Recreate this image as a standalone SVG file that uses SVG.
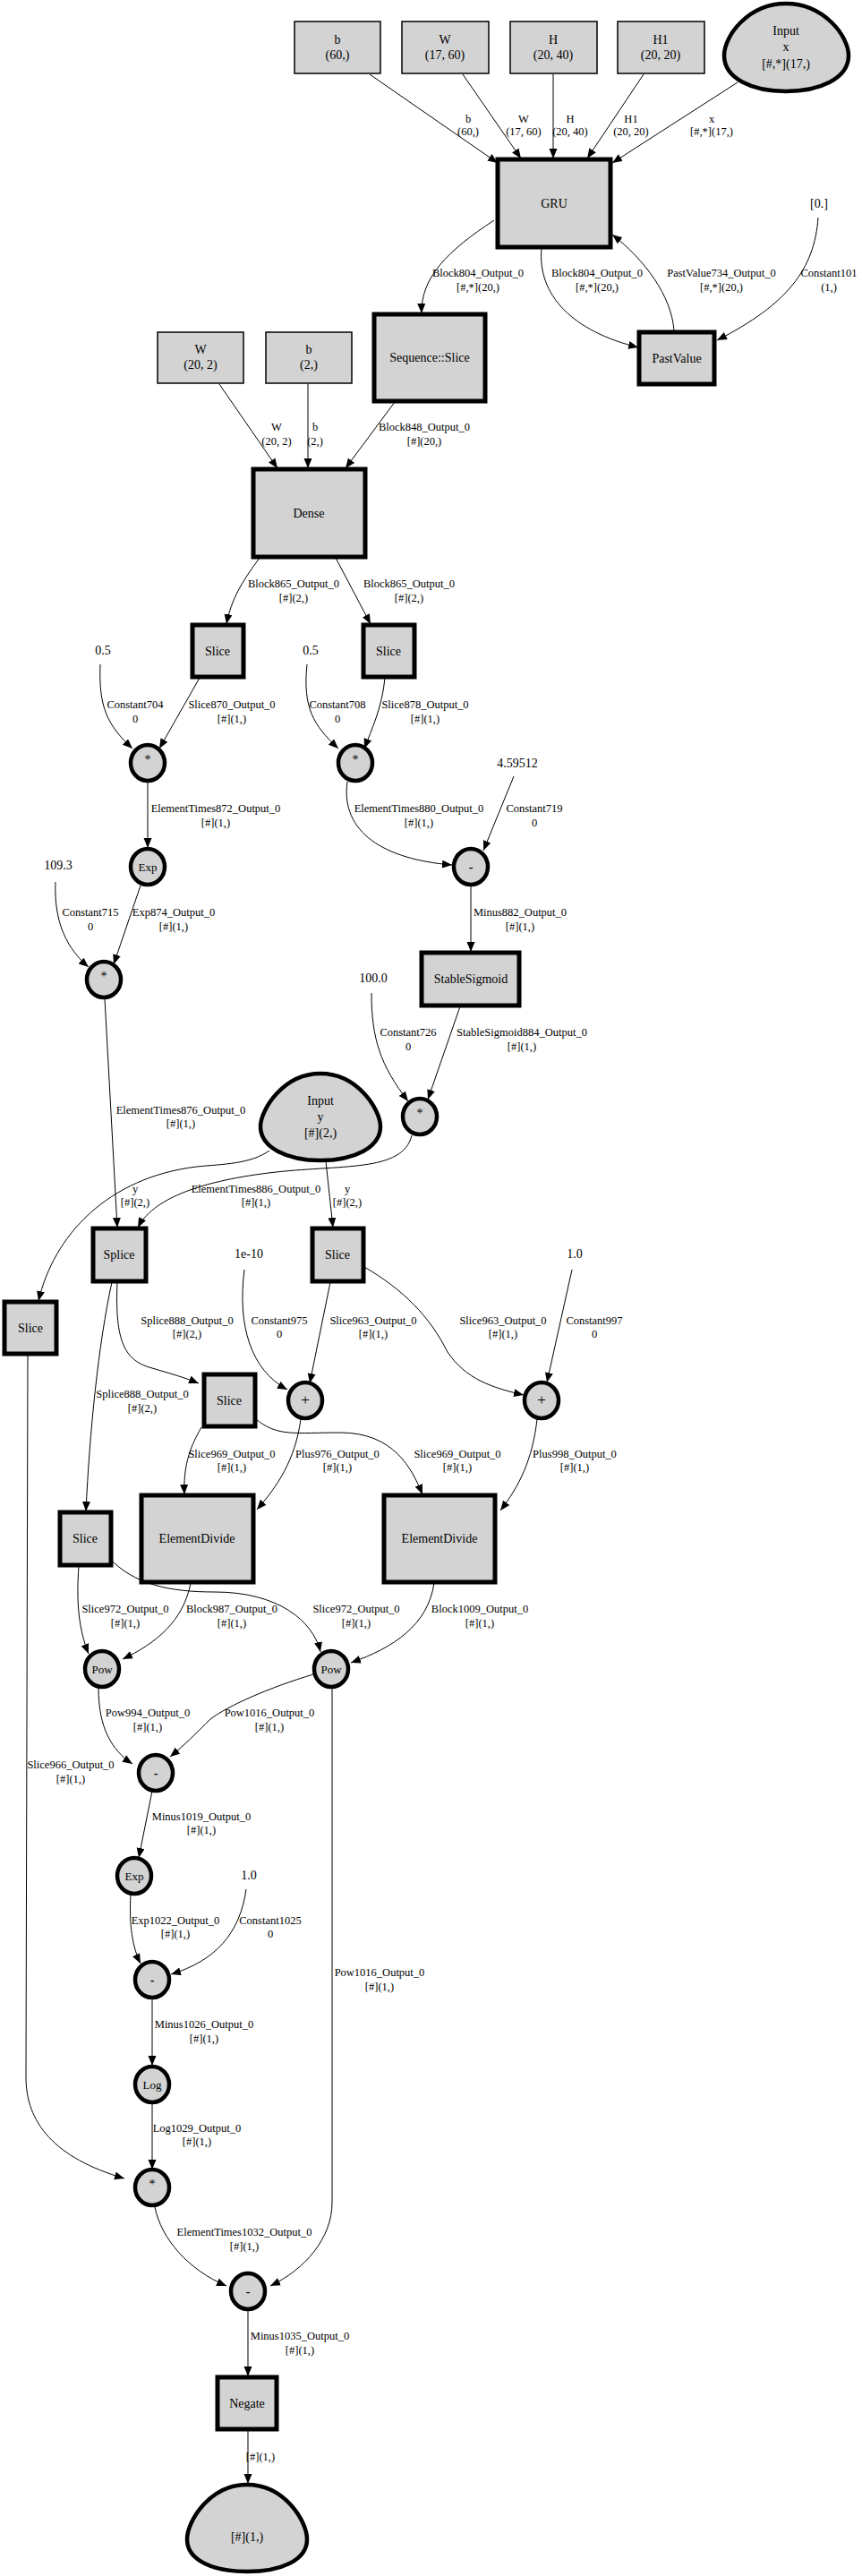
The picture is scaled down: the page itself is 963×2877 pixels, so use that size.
<svg xmlns="http://www.w3.org/2000/svg" width="963" height="2877" viewBox="0 0 963 2877">
<style>
text{font-family:"Liberation Serif",serif;fill:#000}
.n{font-size:14px;text-anchor:middle}
.l{font-size:12.5px;text-anchor:middle}
.p{fill:#d3d3d3;stroke:#000;stroke-width:1.5}
.o{fill:#d3d3d3;stroke:#000;stroke-width:5}
.c{fill:#d3d3d3;stroke:#000;stroke-width:4.5}
.e{fill:none;stroke:#000;stroke-width:1;marker-end:url(#a)}
</style>
<defs><marker id="a" markerUnits="userSpaceOnUse" markerWidth="12" markerHeight="10" refX="11" refY="4.5" orient="auto"><path d="M0,0 L11,4.5 L0,9 Z" fill="#000"/></marker></defs>
<rect width="963" height="2877" fill="#fff"/>
<g id="connectors">
<path class="e" d="M413,83 L556,182"/>
<path class="e" d="M517,83 L582,177"/>
<path class="e" d="M618,83 L618,177"/>
<path class="e" d="M719,83 L656,177"/>
<path class="e" d="M824,92 L684,182"/>
<path class="e" d="M552,246 C500,280 470,310 471,350"/>
<path class="e" d="M605,277 C600,330 640,370 713,388"/>
<path class="e" d="M753,369 C750,330 720,290 684,262"/>
<path class="e" d="M914,243 C910,300 880,340 801,380"/>
<path class="e" d="M245,429 L310,523"/>
<path class="e" d="M344,429 L344,523"/>
<path class="e" d="M441,449 L386,523"/>
<path class="e" d="M290,623 C270,650 258,670 253,697"/>
<path class="e" d="M375,623 L414,697"/>
<path class="e" d="M112,742 C110,790 120,810 148,836"/>
<path class="e" d="M223,757 L178,836"/>
<path class="e" d="M343,742 C338,790 350,810 378,836"/>
<path class="e" d="M430,757 C427,790 415,815 407,836"/>
<path class="e" d="M165,873 L165,947"/>
<path class="e" d="M388,873 C380,930 430,960 505,966"/>
<path class="e" d="M574,867 L540,950"/>
<path class="e" d="M62,985 C60,1030 75,1060 99,1080"/>
<path class="e" d="M157,989 L127,1077"/>
<path class="e" d="M526,989 L526,1063"/>
<path class="e" d="M415,1109 C415,1160 425,1190 456,1230"/>
<path class="e" d="M514,1124 L478,1228"/>
<path class="e" d="M117,1115 L131,1371"/>
<path class="e" d="M460,1268 C450,1310 380,1300 300,1310 C220,1320 170,1340 154,1371"/>
<path class="e" d="M364,1297 L372,1371"/>
<path class="e" d="M301,1285 C280,1300 250,1300 220,1303 C120,1315 60,1380 43,1453"/>
<path class="e" d="M131,1432 C128,1500 140,1520 170,1528 C190,1534 205,1538 222,1545"/>
<path class="e" d="M125,1432 C110,1500 100,1600 96,1688"/>
<path class="e" d="M273,1418 C265,1480 280,1530 321,1552"/>
<path class="e" d="M369,1432 L346,1545"/>
<path class="e" d="M407,1415 C450,1440 480,1470 500,1510 C520,1540 550,1550 585,1558"/>
<path class="e" d="M639,1418 L611,1544"/>
<path class="e" d="M225,1594 C210,1620 205,1640 206,1669"/>
<path class="e" d="M336,1585 C330,1630 310,1660 287,1686"/>
<path class="e" d="M286,1585 C310,1605 330,1600 380,1600 C440,1600 460,1640 472,1669"/>
<path class="e" d="M600,1585 C595,1630 580,1660 559,1687"/>
<path class="e" d="M88,1749 C85,1790 88,1820 99,1847"/>
<path class="e" d="M213,1768 C205,1810 175,1835 137,1853"/>
<path class="e" d="M122,1740 C150,1770 190,1778 240,1778 C310,1778 350,1810 358,1845"/>
<path class="e" d="M485,1768 C478,1815 440,1840 392,1857"/>
<path class="e" d="M110,1885 C110,1930 125,1955 148,1970"/>
<path class="e" d="M350,1870 C300,1885 255,1905 235,1920 C220,1935 205,1950 190,1962"/>
<path class="e" d="M170,2000 L155,2075"/>
<path class="e" d="M146,2116 C144,2150 148,2175 157,2193"/>
<path class="e" d="M275,2110 C268,2160 240,2190 191,2205"/>
<path class="e" d="M170,2232 L170,2307"/>
<path class="e" d="M170,2348 L170,2423"/>
<path class="e" d="M31,1513 L29,2320 C29,2370 60,2410 139,2433"/>
<path class="e" d="M173,2465 C180,2500 210,2535 253,2553"/>
<path class="e" d="M371,1885 L371,2460 C371,2500 340,2535 302,2553"/>
<path class="e" d="M277,2580 L277,2654"/>
<path class="e" d="M277,2714 L277,2774"/>
</g>
<g id="edge-labels">
<text class="l" x="523" y="137">b</text><text class="l" x="523" y="151">(60,)</text>
<text class="l" x="585" y="137">W</text><text class="l" x="585" y="151">(17, 60)</text>
<text class="l" x="637" y="137">H</text><text class="l" x="637" y="151">(20, 40)</text>
<text class="l" x="705" y="137">H1</text><text class="l" x="705" y="151">(20, 20)</text>
<text class="l" x="795" y="137">x</text><text class="l" x="795" y="151">[#,*](17,)</text>
<text class="l" x="534" y="309">Block804_Output_0</text><text class="l" x="534" y="325">[#,*](20,)</text>
<text class="l" x="667" y="309">Block804_Output_0</text><text class="l" x="667" y="325">[#,*](20,)</text>
<text class="l" x="806" y="309">PastValue734_Output_0</text><text class="l" x="806" y="325">[#,*](20,)</text>
<text class="l" x="926" y="309">Constant101</text><text class="l" x="926" y="325">(1,)</text>
<text class="l" x="309" y="481">W</text><text class="l" x="309" y="497">(20, 2)</text>
<text class="l" x="352" y="481">b</text><text class="l" x="352" y="497">(2,)</text>
<text class="l" x="474" y="481">Block848_Output_0</text><text class="l" x="474" y="497">[#](20,)</text>
<text class="l" x="328" y="656">Block865_Output_0</text><text class="l" x="328" y="672">[#](2,)</text>
<text class="l" x="457" y="656">Block865_Output_0</text><text class="l" x="457" y="672">[#](2,)</text>
<text class="l" x="151" y="791">Constant704</text><text class="l" x="151" y="807">0</text>
<text class="l" x="259" y="791">Slice870_Output_0</text><text class="l" x="259" y="807">[#](1,)</text>
<text class="l" x="377" y="791">Constant708</text><text class="l" x="377" y="807">0</text>
<text class="l" x="475" y="791">Slice878_Output_0</text><text class="l" x="475" y="807">[#](1,)</text>
<text class="l" x="241" y="907">ElementTimes872_Output_0</text><text class="l" x="241" y="923">[#](1,)</text>
<text class="l" x="468" y="907">ElementTimes880_Output_0</text><text class="l" x="468" y="923">[#](1,)</text>
<text class="l" x="597" y="907">Constant719</text><text class="l" x="597" y="923">0</text>
<text class="l" x="101" y="1023">Constant715</text><text class="l" x="101" y="1039">0</text>
<text class="l" x="194" y="1023">Exp874_Output_0</text><text class="l" x="194" y="1039">[#](1,)</text>
<text class="l" x="581" y="1023">Minus882_Output_0</text><text class="l" x="581" y="1039">[#](1,)</text>
<text class="l" x="456" y="1157">Constant726</text><text class="l" x="456" y="1173">0</text>
<text class="l" x="583" y="1157">StableSigmoid884_Output_0</text><text class="l" x="583" y="1173">[#](1,)</text>
<text class="l" x="202" y="1244">ElementTimes876_Output_0</text><text class="l" x="202" y="1259">[#](1,)</text>
<text class="l" x="151" y="1332">y</text><text class="l" x="151" y="1347">[#](2,)</text>
<text class="l" x="286" y="1332">ElementTimes886_Output_0</text><text class="l" x="286" y="1347">[#](1,)</text>
<text class="l" x="388" y="1332">y</text><text class="l" x="388" y="1347">[#](2,)</text>
<text class="l" x="209" y="1479">Splice888_Output_0</text><text class="l" x="209" y="1494">[#](2,)</text>
<text class="l" x="312" y="1479">Constant975</text><text class="l" x="312" y="1494">0</text>
<text class="l" x="417" y="1479">Slice963_Output_0</text><text class="l" x="417" y="1494">[#](1,)</text>
<text class="l" x="562" y="1479">Slice963_Output_0</text><text class="l" x="562" y="1494">[#](1,)</text>
<text class="l" x="664" y="1479">Constant997</text><text class="l" x="664" y="1494">0</text>
<text class="l" x="159" y="1561">Splice888_Output_0</text><text class="l" x="159" y="1577">[#](2,)</text>
<text class="l" x="259" y="1628">Slice969_Output_0</text><text class="l" x="259" y="1643">[#](1,)</text>
<text class="l" x="377" y="1628">Plus976_Output_0</text><text class="l" x="377" y="1643">[#](1,)</text>
<text class="l" x="511" y="1628">Slice969_Output_0</text><text class="l" x="511" y="1643">[#](1,)</text>
<text class="l" x="642" y="1628">Plus998_Output_0</text><text class="l" x="642" y="1643">[#](1,)</text>
<text class="l" x="140" y="1801">Slice972_Output_0</text><text class="l" x="140" y="1817">[#](1,)</text>
<text class="l" x="259" y="1801">Block987_Output_0</text><text class="l" x="259" y="1817">[#](1,)</text>
<text class="l" x="398" y="1801">Slice972_Output_0</text><text class="l" x="398" y="1817">[#](1,)</text>
<text class="l" x="536" y="1801">Block1009_Output_0</text><text class="l" x="536" y="1817">[#](1,)</text>
<text class="l" x="165" y="1917">Pow994_Output_0</text><text class="l" x="165" y="1933">[#](1,)</text>
<text class="l" x="301" y="1917">Pow1016_Output_0</text><text class="l" x="301" y="1933">[#](1,)</text>
<text class="l" x="79" y="1975">Slice966_Output_0</text><text class="l" x="79" y="1991">[#](1,)</text>
<text class="l" x="225" y="2033">Minus1019_Output_0</text><text class="l" x="225" y="2048">[#](1,)</text>
<text class="l" x="196" y="2149">Exp1022_Output_0</text><text class="l" x="196" y="2164">[#](1,)</text>
<text class="l" x="302" y="2149">Constant1025</text><text class="l" x="302" y="2164">0</text>
<text class="l" x="424" y="2207">Pow1016_Output_0</text><text class="l" x="424" y="2223">[#](1,)</text>
<text class="l" x="228" y="2265">Minus1026_Output_0</text><text class="l" x="228" y="2281">[#](1,)</text>
<text class="l" x="220" y="2381">Log1029_Output_0</text><text class="l" x="220" y="2396">[#](1,)</text>
<text class="l" x="273" y="2497">ElementTimes1032_Output_0</text><text class="l" x="273" y="2513">[#](1,)</text>
<text class="l" x="335" y="2613">Minus1035_Output_0</text><text class="l" x="335" y="2629">[#](1,)</text>
<text class="l" x="291" y="2748">[#](1,)</text>
</g>
<g id="n_b60"><rect class="p" x="329" y="24" width="96" height="58"/><text class="n" x="377" y="49">b</text><text class="n" x="377" y="66">(60,)</text></g>
<g id="n_W1760"><rect class="p" x="449" y="24" width="97" height="58"/><text class="n" x="497" y="49">W</text><text class="n" x="497" y="66">(17, 60)</text></g>
<g id="n_H"><rect class="p" x="570" y="24" width="97" height="58"/><text class="n" x="618" y="49">H</text><text class="n" x="618" y="66">(20, 40)</text></g>
<g id="n_H1"><rect class="p" x="690" y="24" width="97" height="58"/><text class="n" x="738" y="49">H1</text><text class="n" x="738" y="66">(20, 20)</text></g>
<g id="n_inx"><path class="c" d="M878,4 C920,4 948,40 948,62 C948,88 915,102 878,102 C841,102 809,88 809,62 C809,40 836,4 878,4 Z"/><text class="n" x="878" y="39">Input</text><text class="n" x="878" y="57">x</text><text class="n" x="878" y="76">[#,*](17,)</text></g>
<g id="n_gru"><rect class="o" x="556" y="178" width="126" height="98"/><text class="n" x="619" y="232">GRU</text></g>
<g id="n_c0"><text class="n" x="915" y="232">[0.]</text></g>
<g id="n_seq"><rect class="o" x="418" y="351" width="124" height="97"/><text class="n" x="480" y="404">Sequence::Slice</text></g>
<g id="n_pv"><rect class="o" x="714" y="371" width="84" height="58"/><text class="n" x="756" y="405">PastValue</text></g>
<g id="n_W202"><rect class="p" x="176" y="371" width="96" height="57"/><text class="n" x="224" y="395">W</text><text class="n" x="224" y="412">(20, 2)</text></g>
<g id="n_b2"><rect class="p" x="297" y="371" width="96" height="57"/><text class="n" x="345" y="395">b</text><text class="n" x="345" y="412">(2,)</text></g>
<g id="n_dense"><rect class="o" x="283" y="524" width="125" height="98"/><text class="n" x="345" y="578">Dense</text></g>
<g id="n_slice1"><rect class="o" x="215" y="698" width="57" height="58"/><text class="n" x="243" y="732">Slice</text></g>
<g id="n_slice2"><rect class="o" x="406" y="698" width="57" height="58"/><text class="n" x="434" y="732">Slice</text></g>
<g id="n_c05a"><text class="n" x="115" y="731">0.5</text></g>
<g id="n_c05b"><text class="n" x="347" y="731">0.5</text></g>
<g id="n_t1"><ellipse class="c" cx="165" cy="852" rx="19" ry="20"/><text class="n" x="165" y="853">*</text></g>
<g id="n_t2"><ellipse class="c" cx="397" cy="852" rx="19" ry="20"/><text class="n" x="397" y="853">*</text></g>
<g id="n_c459"><text class="n" x="578" y="857">4.59512</text></g>
<g id="n_exp1"><ellipse class="c" cx="165" cy="968" rx="19" ry="20"/><text class="n" x="165" y="973" style="font-size:13px">Exp</text></g>
<g id="n_m1"><ellipse class="c" cx="526" cy="968" rx="19" ry="20"/><text class="n" x="526" y="973" style="font-weight:bold">-</text></g>
<g id="n_c1093"><text class="n" x="65" y="971">109.3</text></g>
<g id="n_t3"><ellipse class="c" cx="116" cy="1094" rx="19" ry="20"/><text class="n" x="116" y="1095">*</text></g>
<g id="n_ss"><rect class="o" x="471" y="1064" width="109" height="59"/><text class="n" x="526" y="1098">StableSigmoid</text></g>
<g id="n_c100"><text class="n" x="417" y="1097">100.0</text></g>
<g id="n_t4"><ellipse class="c" cx="469" cy="1247" rx="19" ry="20"/><text class="n" x="469" y="1248">*</text></g>
<g id="n_iny"><path class="c" d="M358,1199 C400,1199 425,1240 425,1258 C425,1282 395,1296 358,1296 C321,1296 291,1282 291,1258 C291,1240 316,1199 358,1199 Z"/><text class="n" x="358" y="1234">Input</text><text class="n" x="358" y="1252">y</text><text class="n" x="358" y="1270">[#](2,)</text></g>
<g id="n_splice"><rect class="o" x="104" y="1372" width="59" height="59"/><text class="n" x="133" y="1406">Splice</text></g>
<g id="n_slice3"><rect class="o" x="349" y="1372" width="57" height="59"/><text class="n" x="377" y="1406">Slice</text></g>
<g id="n_c1e10"><text class="n" x="278" y="1405">1e-10</text></g>
<g id="n_c10a"><text class="n" x="642" y="1405">1.0</text></g>
<g id="n_slice0"><rect class="o" x="5" y="1454" width="58" height="58"/><text class="n" x="34" y="1488">Slice</text></g>
<g id="n_slice4"><rect class="o" x="228" y="1535" width="57" height="58"/><text class="n" x="256" y="1569">Slice</text></g>
<g id="n_p1"><ellipse class="c" cx="341" cy="1564" rx="19" ry="20"/><text class="n" x="341" y="1569" style="font-size:17px">+</text></g>
<g id="n_p2"><ellipse class="c" cx="605" cy="1564" rx="19" ry="20"/><text class="n" x="605" y="1569" style="font-size:17px">+</text></g>
<g id="n_ed1"><rect class="o" x="158" y="1670" width="125" height="97"/><text class="n" x="220" y="1723">ElementDivide</text></g>
<g id="n_ed2"><rect class="o" x="429" y="1670" width="124" height="97"/><text class="n" x="491" y="1723">ElementDivide</text></g>
<g id="n_slice5"><rect class="o" x="67" y="1689" width="57" height="59"/><text class="n" x="95" y="1723">Slice</text></g>
<g id="n_pow1"><ellipse class="c" cx="114" cy="1864" rx="19" ry="20"/><text class="n" x="114" y="1869" style="font-size:13px">Pow</text></g>
<g id="n_pow2"><ellipse class="c" cx="370" cy="1864" rx="19" ry="20"/><text class="n" x="370" y="1869" style="font-size:13px">Pow</text></g>
<g id="n_m2"><ellipse class="c" cx="174" cy="1980" rx="19" ry="20"/><text class="n" x="174" y="1985" style="font-weight:bold">-</text></g>
<g id="n_exp2"><ellipse class="c" cx="150" cy="2095" rx="19" ry="20"/><text class="n" x="150" y="2100" style="font-size:13px">Exp</text></g>
<g id="n_c10b"><text class="n" x="278" y="2099">1.0</text></g>
<g id="n_m3"><ellipse class="c" cx="170" cy="2211" rx="19" ry="20"/><text class="n" x="170" y="2216" style="font-weight:bold">-</text></g>
<g id="n_log"><ellipse class="c" cx="170" cy="2328" rx="19" ry="20"/><text class="n" x="170" y="2333" style="font-size:13px">Log</text></g>
<g id="n_t5"><ellipse class="c" cx="170" cy="2443" rx="19" ry="20"/><text class="n" x="170" y="2444">*</text></g>
<g id="n_m4"><ellipse class="c" cx="277" cy="2559" rx="19" ry="20"/><text class="n" x="277" y="2564" style="font-weight:bold">-</text></g>
<g id="n_neg"><rect class="o" x="243" y="2655" width="66" height="58"/><text class="n" x="276" y="2689">Negate</text></g>
<g id="n_out"><path class="c" d="M276,2775 C318,2775 343,2816 343,2836 C343,2860 313,2872 276,2872 C239,2872 209,2860 209,2836 C209,2816 234,2775 276,2775 Z"/><text class="n" x="276" y="2838">[#](1,)</text></g>
</svg>
